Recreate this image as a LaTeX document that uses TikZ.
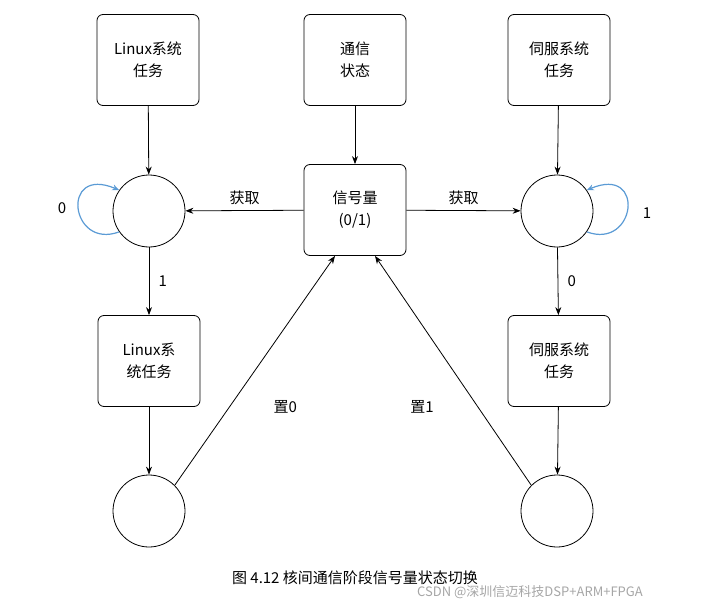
\documentclass[tikz,border=0pt]{standalone}
\usepackage{fontspec}
\newfontfamily\cjk{Noto Sans CJK SC}
\usetikzlibrary{arrows.meta}
\begin{document}
\begin{tikzpicture}[x=1pt,y=-1pt,
 box/.style={draw,rounded corners=6pt,minimum width=102pt,minimum height=91pt,align=center,font=\cjk\fontsize{15}{22}\selectfont,line width=0.8pt},
 st/.style={draw,circle,minimum size=72pt,inner sep=0pt,line width=0.8pt},
 ar/.style={-{Stealth[length=8pt,width=6pt]},line width=0.8pt},
 lp/.style={-{Stealth[length=7pt,width=6pt]},line width=1.2pt,color={rgb,255:red,91;green,155;blue,213}},
 lb/.style={font=\cjk\fontsize{15}{17}\selectfont}]
\useasboundingbox (0,0) rectangle (710,610);
\node[box] (lt) at (148,60) {Linux系统\\任务};
\node[box] (tx) at (355,60) {通信\\状态};
\node[box] (st) at (559,60) {伺服系统\\任务};
\node[st] (lc) at (149,211) {};
\node[st] (rc) at (557,211) {};
\node[box] (sig) at (355,210) {信号量\\(0/1)};
\node[box] (lt2) at (149,361) {Linux系\\统任务};
\node[box] (st2) at (559,361) {伺服系统\\任务};
\node[st] (lb) at (149,511) {};
\node[st] (rb) at (557,511) {};
\draw[ar] (lt) -- (lc);
\draw[ar] (tx) -- (sig);
\draw[ar] (st) -- (rc);
\draw[ar] (sig) -- node[lb,above=2pt]{获取} (lc);
\draw[ar] (sig) -- node[lb,above=2pt]{获取} (rc);
\draw[ar] (lc) -- node[lb,right=6pt]{1} (lt2);
\draw[ar] (rc) -- node[lb,right=6pt]{0} (st2);
\draw[ar] (lt2) -- (lb);
\draw[ar] (st2) -- (rb);
\draw[ar] (lb.north east) -- node[lb,pos=0.34,xshift=56pt]{置0} (sig.south west -| 335,256);
\draw[ar] (rb.north west) -- node[lb,pos=0.34,xshift=-56pt]{置1} (sig.south east -| 375,256);
\draw[lp] (lc.215) .. controls (70,250) and (60,165) .. (lc.145);
\draw[lp] (rc.325) .. controls (636,250) and (646,165) .. (rc.35);
\node[lb] (l0) at (62,208) {0};
\node[lb] (r1) at (647,213) {1};
\node[lb] (cap) at (355,578) {图 4.12 核间通信阶段信号量状态切换};
\node[font=\cjk\fontsize{13}{15}\selectfont,text=gray!70] (wm) at (530,592) {CSDN @深圳信迈科技DSP+ARM+FPGA};
\end{tikzpicture}
\end{document}
